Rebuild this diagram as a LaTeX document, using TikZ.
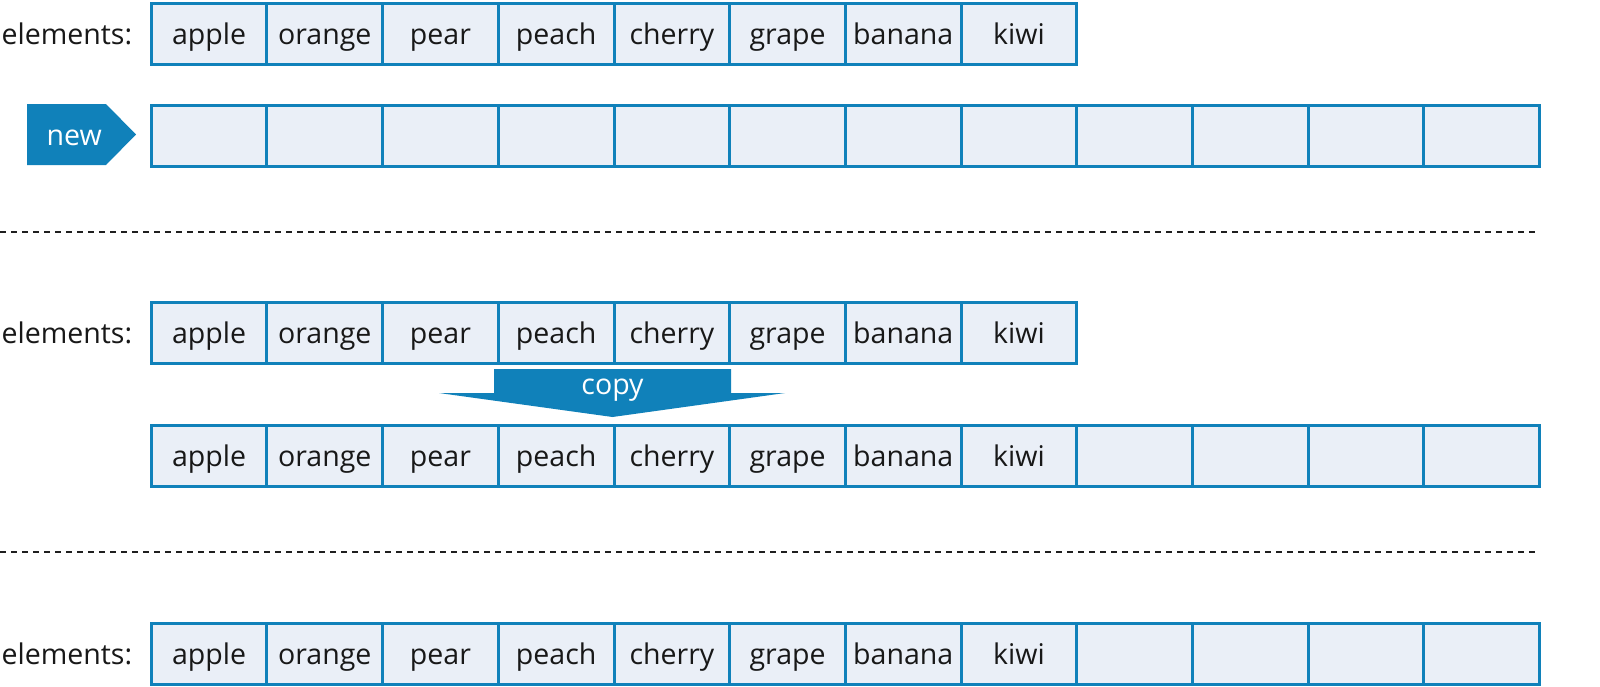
\documentclass[tikz,border=0pt]{standalone}
\usepackage{fontspec}
\setmainfont{Open Sans}
\usetikzlibrary{positioning}

\definecolor{arrblue}{RGB}{16,129,186}
\definecolor{cellfill}{RGB}{234,239,247}
\definecolor{inktext}{RGB}{24,24,24}

\tikzset{every picture/.style={line width=0.75pt}}
\tikzset{
	cellfont/.style={font=\fontsize{21.4}{25}\selectfont, text height=16pt, text depth=0pt},
	cell/.style={cellfont, draw=arrblue, fill=cellfill, line width=2.3pt, minimum width=86.78pt, minimum height=45.9pt, inner sep=0pt, anchor=north west, text=inktext},
	rowlabel/.style={cellfont, inner sep=0.75pt, text=inktext},
	banner/.style={fill=arrblue, draw=none},
	bannertext/.style={cellfont, inner sep=0.75pt, text=white},
	sepline/.style={draw=black!88, line width=1.5pt, dash pattern=on 4.5pt off 3.75pt}
}

\begin{document}
\begin{tikzpicture}[x=0.75pt,y=0.75pt,yscale=-1,xscale=1]
	\useasboundingbox (0,0) rectangle (1600,686);
	
	%Row a: elements
	\foreach \fruit [count=\i] in {apple,orange,pear,peach,cherry,grape,banana,kiwi}
		\node [cell] (a\i) at ({149.7+(\i-1)*115.7},2) {\fruit};
	\node [rowlabel, left=12pt of a1] (laba) {elements:};
	
	%Row b: new empty array
	\foreach \i in {1,...,12}
		\node [cell] (b\i) at ({149.7+(\i-1)*115.7},104) {};
	%Shape: new banner
	\draw [banner] (27,104) -- (106,104) -- (136,134.5) -- (106,165) -- (27,165) -- cycle ;
	\node [bannertext] (new) at (74.2,134.5) {new};
	
	%Straight Lines: separator
	\draw [sepline] (0,231.7) -- (1539,231.7) ;
	
	%Row c: elements
	\foreach \fruit [count=\i] in {apple,orange,pear,peach,cherry,grape,banana,kiwi}
		\node [cell] (c\i) at ({149.7+(\i-1)*115.7},301) {\fruit};
	\node [rowlabel, left=12pt of c1] (labc) {elements:};
	
	%Row d: copied elements
	\foreach \fruit [count=\i] in {apple,orange,pear,peach,cherry,grape,banana,kiwi,{},{},{},{}}
		\node [cell] (d\i) at ({149.7+(\i-1)*115.7},424) {\fruit};
	
	%Shape: copy arrow
	\draw [banner] (494,369) -- (731,369) -- (731,393) -- (785,393) -- (612.5,417) -- (439,393) -- (494,393) -- cycle ;
	\node [bannertext, anchor=base] (copy) at (612.5,394) {copy};
	
	%Straight Lines: separator
	\draw [sepline] (0,552.3) -- (1539,552.3) ;
	
	%Row e: elements
	\foreach \fruit [count=\i] in {apple,orange,pear,peach,cherry,grape,banana,kiwi,{},{},{},{}}
		\node [cell] (e\i) at ({149.7+(\i-1)*115.7},621.5) {\fruit};
	\node [rowlabel, left=12pt of e1] (labe) {elements:};
	
\end{tikzpicture}
\end{document}
